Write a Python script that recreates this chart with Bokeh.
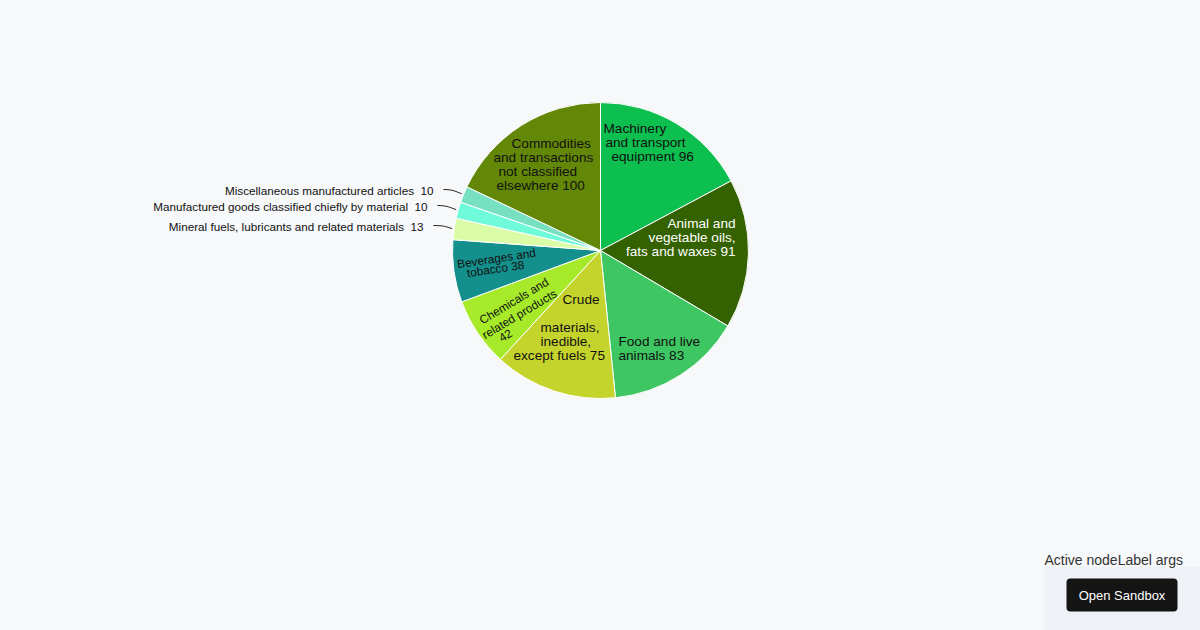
import math
from bokeh.plotting import figure
from bokeh.models import Range1d
from bokeh.core.properties import value
from bokeh.embed import file_html
from bokeh.resources import INLINE

# ---- data ----
categories = [
    "Machinery and transport equipment",
    "Animal and vegetable oils, fats and waxes",
    "Food and live animals",
    "Crude materials, inedible, except fuels",
    "Chemicals and related products",
    "Beverages and tobacco",
    "Mineral fuels, lubricants and related materials",
    "Manufactured goods classified chiefly by material",
    "Miscellaneous manufactured articles",
    "Commodities and transactions not classified elsewhere",
]
values = [96, 91, 83, 75, 42, 38, 13, 10, 10, 100]
colors = ["#0cbf4e", "#346200", "#3dc661", "#c5d42c", "#a6ea2a",
          "#14908c", "#dafca6", "#6ffad9", "#76e0c1", "#638807"]

W, H = 1200, 630
BG = "#f7f8fa"
NB = "\u00a0"

def Y(sy):  # screen y -> data y
    return H - sy

p = figure(width=W, height=H, output_backend="svg", toolbar_location=None,
           x_range=Range1d(0, W), y_range=Range1d(0, H),
           min_border=0, background_fill_color=BG, border_fill_color=BG)
p.axis.visible = False
p.grid.visible = False
p.outline_line_color = None

cx, cy, R = 600, 250, 148
total = sum(values)
starts, ends, mids = [], [], []
acc = 0.0
for v in values:
    a0 = acc / total * 2 * math.pi
    acc += v
    a1 = acc / total * 2 * math.pi
    starts.append(math.pi / 2 - a0)
    ends.append(math.pi / 2 - a1)
    mids.append((a0 + a1) / 2)

p.wedge(x=[cx] * len(values), y=[Y(cy)] * len(values), radius=R,
        start_angle=starts, end_angle=ends, direction="clock",
        fill_color=colors, line_color="white", line_width=1)

FONT = value("Liberation Sans")

# inside labels: (text, dx, dy, align, color)
inside = [
    ("Machinery", 3, -122, "left", "#111111"),
    ("and transport", 5, -108, "left", "#111111"),
    ("equipment 96", 11, -94, "left", "#111111"),
    ("Animal and", 135, -27, "right", "#ffffff"),
    ("vegetable oils,", 135, -13, "right", "#ffffff"),
    ("fats and waxes 91", 135, 1, "right", "#ffffff"),
    ("Food and live", 18, 91, "left", "#111111"),
    ("animals 83", 18, 105, "left", "#111111"),
    ("Crude", -38, 49, "left", "#111111"),
    ("materials,", -60, 77, "left", "#111111"),
    ("inedible,", -60, 91, "left", "#111111"),
    ("except fuels 75", -87, 105, "left", "#111111"),
    ("Commodities", -89, -107, "left", "#111111"),
    ("and transactions", -107, -93, "left", "#111111"),
    ("not classified", -102, -79, "left", "#111111"),
    ("elsewhere 100", -104, -65, "left", "#111111"),
]
for t, dx, dy, al, col in inside:
    p.text(x=[cx + dx], y=[Y(cy + dy)], text=[t], text_align=al,
           text_baseline="middle", text_font=FONT, text_font_size="13.6px",
           text_color=col)

rotated = [
    ("Beverages and", -104, 8, 8.5),
    ("tobacco 38", -105, 18.5, 8.5),
    ("Chemicals and", -86.5, 50.5, 31),
    ("related products", -81, 63.7, 31),
    ("42", -95, 85, 31),
]
for t, dx, dy, ang in rotated:
    p.text(x=[cx + dx], y=[Y(cy + dy)], text=[t], text_align="center",
           text_baseline="middle", text_font=FONT, text_font_size="11.8px",
           text_color="#111111", angle=math.radians(ang))

# outside labels with leader lines
outside = [
    (8, "Miscellaneous manufactured articles" + NB + NB + "10", 433, 190),
    (7, "Manufactured goods classified chiefly by material" + NB + NB + "10", 427, 206),
    (6, "Mineral fuels, lubricants and related materials" + NB + NB + "13", 423, 226),
]
for idx, t, tx, ty in outside:
    p.text(x=[tx], y=[Y(ty)], text=[t], text_align="right",
           text_baseline="middle", text_font=FONT, text_font_size="11.7px",
           text_color="#111111")
    m = mids[idx]
    ex = cx + (R + 2) * math.sin(m)
    ey = cy - (R + 2) * math.cos(m)
    sx0 = tx + 10
    p.bezier(x0=[sx0], y0=[Y(ty - 1)], x1=[ex], y1=[Y(ey)],
             cx0=[sx0 + 10], cy0=[Y(ty - 1)], cx1=[ex - 6], cy1=[Y(ey - 2)],
             line_color="#222222", line_width=1)

# bottom-right panel
p.quad(left=[1044], right=[1200], top=[Y(566)], bottom=[Y(630)],
       fill_color="#eef1f5", line_color=None)
p.text(x=[1044], y=[Y(559)], text=["Active nodeLabel args"], text_align="left",
       text_baseline="middle", text_font=FONT, text_font_size="14px",
       text_color="#333333")
p.rect(x=[1121.5], y=[Y(594.5)], width=111, height=33, fill_color="#141414",
       line_color=None, border_radius=4)
p.text(x=[1121.5], y=[Y(595)], text=["Open Sandbox"], text_align="center",
       text_baseline="middle", text_font=FONT, text_font_size="13px",
       text_color="#ffffff")

html = file_html(p, INLINE)
style = ("<style>html,body{margin:0;padding:0;overflow:hidden;background:%s}</style>" % BG)
html = html.replace("</head>", style + "</head>", 1)
open("out.html", "w").write(html)
